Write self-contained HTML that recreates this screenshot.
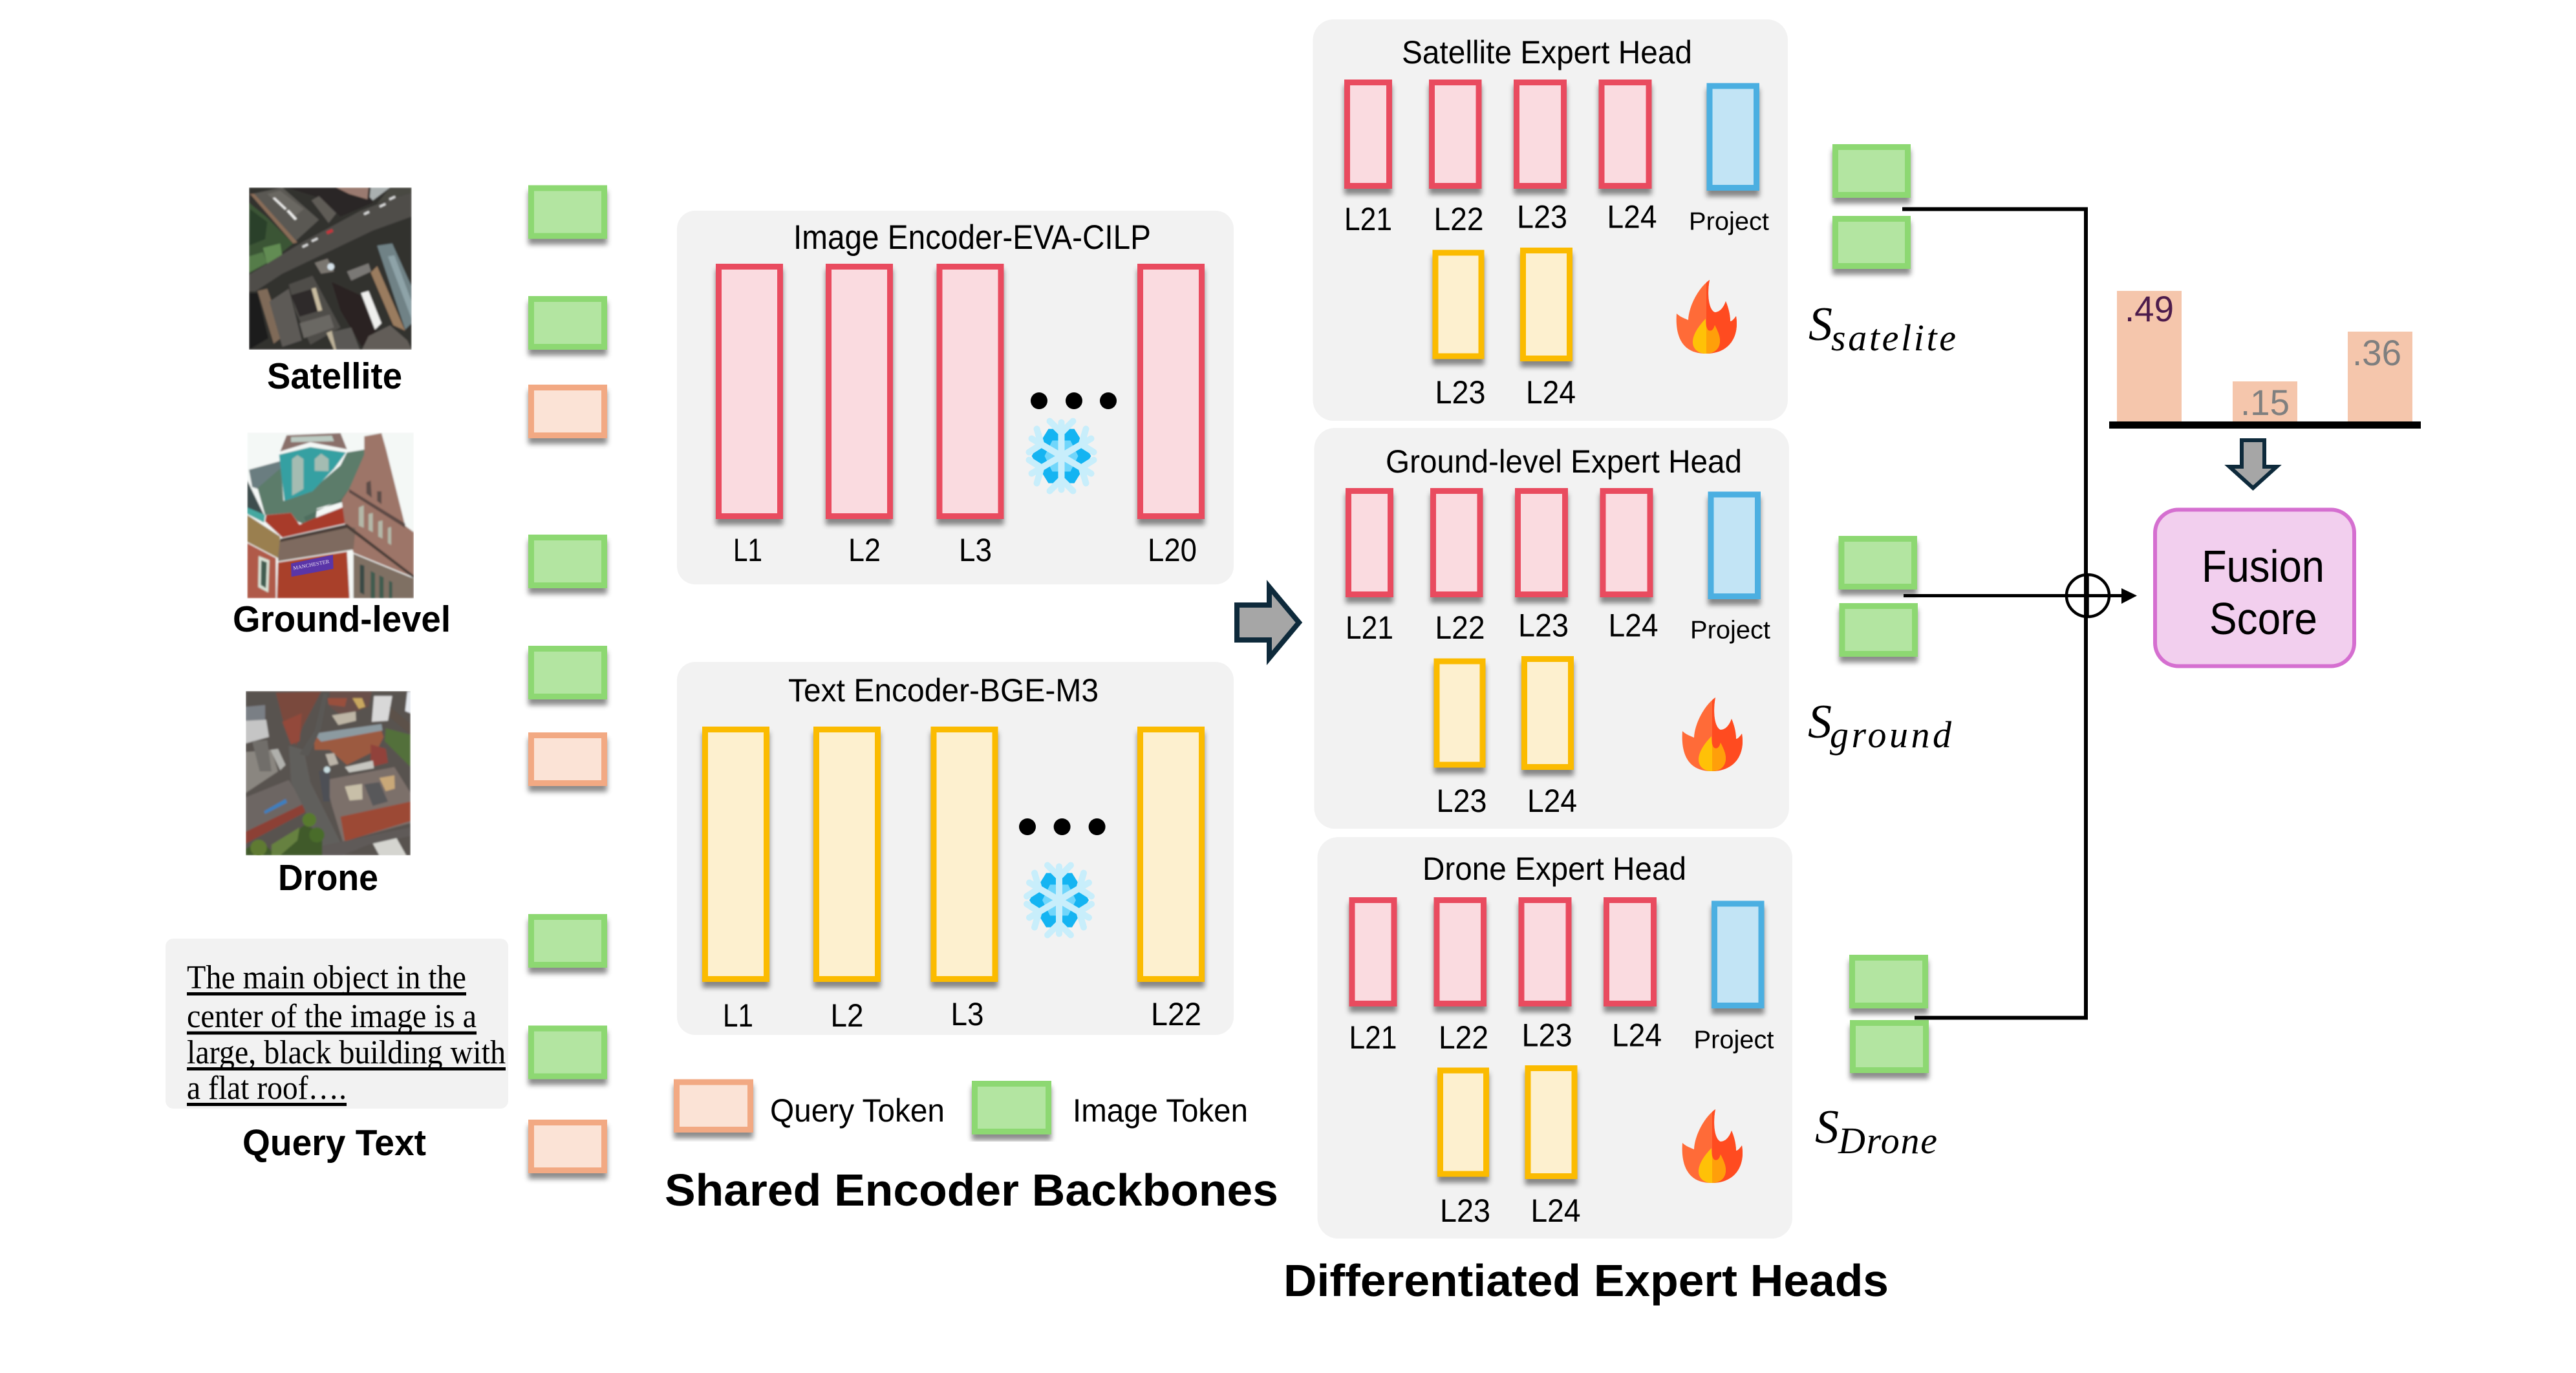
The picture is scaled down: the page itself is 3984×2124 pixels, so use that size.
<!DOCTYPE html>
<html><head><meta charset="utf-8"><title>Diagram</title>
<style>
html,body{margin:0;padding:0;background:#fff;width:3984px;height:2124px;overflow:hidden}
svg{display:block}
text{font-family:"Liberation Sans",Arial,sans-serif;fill:#000}
.b{font-weight:bold}
.ser{font-family:"Liberation Serif","Times New Roman",serif;font-size:52px}
.m{font-family:"Liberation Serif","Times New Roman",serif;font-style:italic}
.t{font-size:50px}
.l{font-size:50px}
.r{fill:#fadbe0;stroke:#e94c5f;stroke-width:9}
.y{fill:#fdf0cf;stroke:#fbbb05;stroke-width:9}
.u{fill:#c2e4f5;stroke:#4bafe1;stroke-width:9}
.g{fill:#b3e5a1;stroke:#8dd872;stroke-width:9}
.o{fill:#fbe3d6;stroke:#f2a983;stroke-width:9}
.box{fill:#f2f2f2}
</style></head><body>
<svg xmlns="http://www.w3.org/2000/svg" width="3984" height="2124" viewBox="0 0 3984 2124">
<defs>
<filter id="sh" x="-20%" y="-20%" width="140%" height="140%"><feDropShadow dx="0" dy="9" stdDeviation="4" flood-color="#000" flood-opacity="0.45"/></filter>
<filter id="soft" x="-2%" y="-2%" width="104%" height="104%"><feGaussianBlur stdDeviation="4"/></filter>
<clipPath id="c1"><rect x="45" y="30" width="755" height="753"/></clipPath>
<clipPath id="c2"><rect x="37" y="27" width="773" height="770"/></clipPath>
<clipPath id="c3"><rect x="30" y="27" width="765" height="763"/></clipPath>
<clipPath id="fr"><rect x="47" y="-5" width="60" height="125"/></clipPath>
<g id="fire">
 <path id="fo" fill="#ff6b38" d="M52 0C35 12 20 40 19 62C14 60 6 57 1 52C-1 80 5 114 46 114C85 114 98 85 93 56C90 60 87 64 84 64C84 52 80 40 77 33C74 42 68 50 60 50C50 46 48 20 52 0Z"/>
 <path clip-path="url(#fr)" fill="#ff4b20" d="M52 0C35 12 20 40 19 62C14 60 6 57 1 52C-1 80 5 114 46 114C85 114 98 85 93 56C90 60 87 64 84 64C84 52 80 40 77 33C74 42 68 50 60 50C50 46 48 20 52 0Z"/>
 <path fill="#ffc107" d="M46 60C36 70 26 84 26 96C26 108 36 114 46 114C60 114 68 106 68 94C68 86 64 78 60 70C58 78 54 80 50 78C46 74 46 66 46 60Z"/>
 <path clip-path="url(#fr)" fill="#ff9f0a" d="M46 60C36 70 26 84 26 96C26 108 36 114 46 114C60 114 68 106 68 94C68 86 64 78 60 70C58 78 54 80 50 78C46 74 46 66 46 60Z"/>
</g>
<g id="snow">
 <polygon points="-20,-42 20,-42 46,0 20,42 -20,42 -46,0" fill="#14b4f2"/>
 <polygon points="-14,-24 14,-24 26,0 14,24 -14,24 -26,0" fill="#70d6fb"/>
 <g stroke="#c8eefb" stroke-width="10" stroke-linecap="round" fill="none">
  <path id="arm" d="M0 0V-52M-18 -54L0 -36L18 -54"/>
  <path d="M0 0V52M-18 54L0 36L18 54"/>
  <path d="M0 0L-46 -27M-50 -6L-31 -18L-38 -42"/>
  <path d="M0 0L46 -27M50 -6L31 -18L38 -42"/>
  <path d="M0 0L-46 27M-50 6L-31 18L-38 42"/>
  <path d="M0 0L46 27M50 6L31 18L38 42"/>
 </g>
</g>
<g id="bars" filter="url(#sh)">
 <rect class="r" x="2083.5" y="127.5" width="65" height="160"/>
 <rect class="r" x="2214.5" y="127.5" width="72.5" height="160"/>
 <rect class="r" x="2345.5" y="127.5" width="73" height="160"/>
 <rect class="r" x="2477" y="127.5" width="73" height="160"/>
 <rect class="u" x="2644" y="133" width="72.5" height="157.5"/>
 <rect class="y" x="2220" y="391" width="71" height="160"/>
 <rect class="y" x="2355.5" y="387.5" width="72" height="167"/>
</g>
</defs>
<rect width="3984" height="2124" fill="#fff"/>

<!-- satellite photo -->
<g transform="translate(370,280) scale(0.3333)"><g clip-path="url(#c1)"><g filter="url(#soft)">
 <rect x="45" y="30" width="755" height="753" fill="#33302e"/>
 <polygon points="220,30 600,30 620,100 470,165 380,80" fill="#2a2826"/>
 <polygon points="45,100 130,170 250,290 150,370 45,430" fill="#3b5436"/>
 <polygon points="50,130 130,190 120,270 45,300" fill="#2b3f2b"/>
 <polygon points="110,310 190,290 200,350 130,385" fill="#628c52"/>
 <polygon points="45,350 110,330 130,380 45,425" fill="#557b48"/>
 <polygon points="60,60 200,30 370,180 260,280 120,130" fill="#5a5853"/>
 <polygon points="130,60 190,45 300,130 250,170" fill="#6a6762"/>
 <polygon points="50,60 70,60 270,285 250,290" fill="#8a6d58"/>
 <polygon points="335,90 370,70 450,150 415,195" fill="#5f5b56"/>
 <polygon points="155,80 165,76 220,128 212,134" fill="#f0f0ee"/>
 <polygon points="220,140 230,134 268,175 258,182" fill="#f0f0ee"/>
 <polygon points="450,30 600,30 595,85 510,60" fill="#9a7a70"/>
 <polygon points="610,30 700,30 620,90 605,75" fill="#aab0b0"/>
 <polygon points="45,435 300,280 560,140 700,85 800,55 800,165 620,230 400,335 200,430 75,512 45,512" fill="#4f4e4a"/>
 <polygon points="700,30 800,30 800,55 700,85 640,105" fill="#4a4a42"/>
 <rect x="405" y="228" width="30" height="14" fill="#c8303a" transform="rotate(-25 420 235)"/>
 <rect x="335" y="268" width="30" height="10" fill="#ddd" transform="rotate(-25 350 273)"/>
 <rect x="292" y="295" width="28" height="10" fill="#ddd" transform="rotate(-25 306 300)"/>
 <rect x="578" y="144" width="26" height="10" fill="#ddd" transform="rotate(-25 590 149)"/>
 <rect x="650" y="108" width="30" height="10" fill="#ddd" transform="rotate(-25 665 113)"/>
 <rect x="695" y="74" width="30" height="10" fill="#ddd" transform="rotate(-25 710 79)"/>
 <polygon points="640,300 710,290 800,490 800,660 770,690" fill="#6f8286"/>
 <polygon points="690,350 720,345 800,560 800,640" fill="#8ea3a8"/>
 <polygon points="610,425 640,395 770,695 715,670" fill="#9a7b5e"/>
 <polygon points="500,420 600,382 612,420 520,462" fill="#7a7875"/>
 <polygon points="430,470 560,530 640,690 570,770 470,600" fill="#2a2120"/>
 <polygon points="565,520 600,510 660,660 630,690" fill="#efefed"/>
 <polygon points="600,720 700,670 780,740 800,783 570,783" fill="#625d58"/>
 <polygon points="85,510 130,500 205,720 160,755" fill="#7f6a58"/>
 <polygon points="230,480 340,440 470,680 330,760 260,600" fill="#504d4a"/>
 <polygon points="240,530 340,500 380,600 280,630" fill="#2f2c2a"/>
 <polygon points="335,500 355,495 385,600 365,605" fill="#c8bba0"/>
 <polygon points="280,660 420,620 440,680 300,730" fill="#6b6864"/>
 <polygon points="405,705 430,695 465,783 440,783" fill="#bdb29a"/>
 <polygon points="45,520 85,520 135,730 45,783" fill="#1e1c1c"/>
 <polygon points="140,560 230,500 290,740 200,770" fill="#5d5a56"/>
 <polygon points="350,380 410,360 440,420 380,430" fill="#7a7670"/>
 <circle cx="425" cy="398" r="16" fill="#d6e2ea"/>
 <polygon points="430,700 520,680 560,783 450,783" fill="#5a5854"/>
</g></g></g>

<!-- ground photo -->
<g transform="translate(370,660) scale(0.3333)"><g clip-path="url(#c2)"><g filter="url(#soft)">
 <rect x="37" y="27" width="773" height="770" fill="#f4f8f6"/>
 <polygon points="45,200 190,160 195,200 90,290 60,280" fill="#6a7d80"/>
 <polygon points="85,285 195,190 205,345 330,300 470,180 500,120 590,105 520,290 475,345 360,380 355,425 320,462 270,440 240,400 120,410" fill="#5c7c6b"/>
 <polygon points="300,420 470,340 500,300 510,340 360,385 355,430 320,465" fill="#4f6e5e"/>
 <polygon points="185,130 330,95 495,120 440,195 340,300 210,345 195,220" fill="#35a0a2"/>
 <polygon points="220,40 470,30 500,105 330,72 190,115" fill="#8a6f6a"/>
 <polygon points="240,48 430,42 440,68 240,72" fill="#bccbc2"/>
 <polygon points="245,150 270,132 298,150 298,290 245,320" fill="#a4bcb2"/>
 <polygon points="350,150 380,125 415,150 415,207 350,205" fill="#a4bcb2"/>
 <polygon points="125,410 240,400 280,455 350,425 490,370 490,450 200,515 120,440" fill="#a83a2a"/>
 <polygon points="510,290 580,130 580,45 660,30 680,100 720,260 770,460 810,490 810,700 530,585 490,450 475,340" fill="#9d7568"/>
 <polygon points="590,260 610,250 615,330 590,310" fill="#5d4d48"/>
 <polygon points="640,300 660,300 660,360 640,345" fill="#5d4d48"/>
 <polygon points="555,375 578,365 578,470 555,460" fill="#b4b8a8"/>
 <polygon points="600,405 620,400 620,490 600,480" fill="#b4b8a8"/>
 <polygon points="645,440 665,435 665,520 645,510" fill="#b4b8a8"/>
 <polygon points="690,470 705,465 705,550 690,540" fill="#b4b8a8"/>
 <polygon points="510,290 770,450 770,470 510,305" fill="#5b4a45"/>
 <polygon points="180,530 490,460 540,470 530,570 180,625" fill="#7e6a5e"/>
 <polygon points="190,520 500,452 810,690 810,705 500,470 190,535" fill="#4a3d38"/>
 <polygon points="180,630 500,580 512,797 175,797" fill="#a9402b"/>
 <polygon points="37,540 170,610 170,797 37,797" fill="#b05a48"/>
 <polygon points="37,410 190,510 180,610 37,535" fill="#9a7f50"/>
 <polygon points="90,600 140,620 135,770 88,745" fill="#d9e3d6"/>
 <polygon points="102,620 128,630 124,750 100,735" fill="#3f5c50"/>
 <polygon points="530,590 810,705 810,797 530,797" fill="#7f7064"/>
 <polygon points="560,640 580,645 580,780 560,770" fill="#394a44"/>
 <polygon points="610,670 630,680 630,797 610,797" fill="#3f5c50"/>
 <polygon points="650,690 670,700 670,797 650,797" fill="#3f5c50"/>
 <polygon points="695,715 710,722 710,797 695,797" fill="#3f5c50"/>
 <polygon points="37,250 115,410 37,400" fill="#3e4e4e"/>
 <polygon points="37,375 120,410 115,445 37,405" fill="#45a8a0"/>
</g>
 <polygon points="240,635 435,595 437,660 242,697" fill="#5a35a8"/>
 <text x="252" y="665" font-size="24" style="fill:#e8e0f0;font-family:'Liberation Serif',serif" transform="rotate(-11 252 665)" textLength="170" lengthAdjust="spacingAndGlyphs">MANCHESTER</text>
</g></g>

<!-- drone photo -->
<g transform="translate(370,1060) scale(0.3333)"><g clip-path="url(#c3)"><g filter="url(#soft)">
 <rect x="30" y="27" width="765" height="763" fill="#59524f"/>
 <polygon points="170,35 380,30 295,190 265,280 210,190" fill="#7a4a3c"/>
 <polygon points="200,170 290,130 280,260 240,275" fill="#93483a"/>
 <polygon points="420,30 615,30 600,100 480,145 420,100" fill="#6a5049"/>
 <polygon points="410,60 500,60 490,100 415,90" fill="#99503c"/>
 <polygon points="430,140 540,122 542,165 460,185" fill="#bdb5a5"/>
 <polygon points="525,60 570,60 585,100 555,110" fill="#c9a75e"/>
 <polygon points="30,100 120,92 120,170 30,170" fill="#7a7f85"/>
 <polygon points="30,165 125,160 138,240 30,270" fill="#c5c5c5"/>
 <polygon points="625,50 710,50 690,165 615,170" fill="#d8d8d8"/>
 <polygon points="700,100 795,180 795,230 700,150" fill="#5b5148"/>
 <polygon points="780,30 795,30 795,130 770,120" fill="#e4e8ee"/>
 <polygon points="680,200 795,230 795,380 720,305 675,260" fill="#52703a"/>
 <polygon points="345,225 650,185 670,240 640,300 500,370 420,300 350,300" fill="#9c5a40"/>
 <polygon points="345,225 660,180 665,210 380,262" fill="#8c9aa0"/>
 <polygon points="610,275 680,295 690,360 610,380" fill="#91423a"/>
 <polygon points="30,310 150,300 180,400 30,500" fill="#8a8680"/>
 <polygon points="60,260 130,255 150,400 95,400" fill="#716e6b"/>
 <polygon points="145,300 180,295 215,370 190,395" fill="#b0b0ac"/>
 <polygon points="30,520 230,440 300,550 300,590 30,730" fill="#6d6663"/>
 <polygon points="30,680 300,550 305,590 30,735" fill="#8c3f35"/>
 <polygon points="115,585 215,528 222,545 120,597" fill="#3b7fc0"/>
 <polygon points="230,280 300,300 330,450 480,750 390,785 300,570 240,450" fill="#605f5c"/>
 <polygon points="280,320 350,210 390,40 410,40 380,200 320,330" fill="#5a5855"/>
 <polygon points="400,440 720,380 795,500 795,640 480,725 430,560" fill="#7c6f6a"/>
 <polygon points="470,610 795,540 795,630 490,725" fill="#9c4a35"/>
 <polygon points="490,470 570,458 572,530 512,535" fill="#c8bfa8"/>
 <polygon points="650,430 720,418 722,480 680,492" fill="#c9a878"/>
 <polygon points="580,460 650,450 690,540 620,560" fill="#59585a"/>
 <polygon points="490,380 620,350 625,385 510,405" fill="#c6c6c0"/>
 <polygon points="400,320 440,315 460,365 420,375" fill="#bbb4a8"/>
 <polygon points="370,400 420,380 420,540 390,540" fill="#4e4f55"/>
 <circle cx="407" cy="392" r="15" fill="#c8dce0"/>
 <polygon points="30,760 100,720 150,770 300,650 385,680 385,790 30,790" fill="#3f5a2c"/>
 <circle cx="325" cy="625" r="32" fill="#587a2e"/>
 <circle cx="360" cy="695" r="35" fill="#4a6c2b"/>
 <circle cx="90" cy="755" r="38" fill="#5f7a30"/>
 <polygon points="150,740 280,660 270,720 190,790 150,790" fill="#66813f"/>
 <polygon points="385,745 790,660 795,700 600,740 480,790 385,790" fill="#5e5a58"/>
 <polygon points="620,735 730,710 775,790 650,790" fill="#d5d5d0"/>
</g></g></g>

<!-- photo labels -->
<text class="b" x="413" y="601" font-size="57" textLength="209" lengthAdjust="spacingAndGlyphs">Satellite</text>
<text class="b" x="360" y="977" font-size="57" textLength="337" lengthAdjust="spacingAndGlyphs">Ground-level</text>
<text class="b" x="430" y="1377" font-size="57" textLength="155" lengthAdjust="spacingAndGlyphs">Drone</text>

<!-- query box -->
<rect class="box" x="256" y="1452" width="530" height="263" rx="12"/>
<text class="ser" x="289" y="1529" textLength="432" lengthAdjust="spacingAndGlyphs">The main object in the</text>
<text class="ser" x="289" y="1589" textLength="448" lengthAdjust="spacingAndGlyphs">center of the image is a</text>
<text class="ser" x="289" y="1645" textLength="493" lengthAdjust="spacingAndGlyphs">large, black building with</text>
<text class="ser" x="289" y="1700" textLength="247" lengthAdjust="spacingAndGlyphs">a flat roof….</text>
<rect x="289" y="1535" width="432" height="5"/>
<rect x="289" y="1595.5" width="448" height="5"/>
<rect x="289" y="1651" width="493" height="5"/>
<rect x="289" y="1706" width="247" height="5"/>
<text class="b" x="375" y="1787" font-size="57" textLength="284" lengthAdjust="spacingAndGlyphs">Query Text</text>

<!-- left tokens -->
<g filter="url(#sh)">
 <rect class="g" x="821.5" y="291" width="113" height="74"/>
 <rect class="g" x="821.5" y="462.5" width="113" height="74"/>
 <rect class="o" x="821.5" y="599.5" width="113" height="74"/>
 <rect class="g" x="821.5" y="831.5" width="113" height="74"/>
 <rect class="g" x="821.5" y="1003.5" width="113" height="74"/>
 <rect class="o" x="821.5" y="1137.5" width="113" height="74"/>
 <rect class="g" x="821.5" y="1418.5" width="113" height="74"/>
 <rect class="g" x="821.5" y="1591" width="113" height="74"/>
 <rect class="o" x="821.5" y="1736.5" width="113" height="74"/>
</g>

<!-- image encoder -->
<rect class="box" x="1047" y="326" width="861" height="578" rx="28"/>
<text x="1227" y="385" font-size="53" textLength="553" lengthAdjust="spacingAndGlyphs">Image Encoder-EVA-CILP</text>
<g filter="url(#sh)">
 <rect class="r" x="1111.5" y="412.5" width="95" height="386"/>
 <rect class="r" x="1281.5" y="412.5" width="95" height="386"/>
 <rect class="r" x="1453" y="412.5" width="95" height="386"/>
 <rect class="r" x="1763.5" y="412.5" width="95" height="386"/>
</g>
<text class="l" x="1134" y="868" textLength="45" lengthAdjust="spacingAndGlyphs">L1</text>
<text class="l" x="1312" y="868" textLength="50" lengthAdjust="spacingAndGlyphs">L2</text>
<text class="l" x="1483" y="868" textLength="51" lengthAdjust="spacingAndGlyphs">L3</text>
<text class="l" x="1775" y="868" textLength="76" lengthAdjust="spacingAndGlyphs">L20</text>
<circle cx="1607" cy="620" r="13"/><circle cx="1661" cy="620" r="13"/><circle cx="1714" cy="620" r="13"/>
<use href="#snow" transform="translate(1641.5,705.5)"/>

<!-- text encoder -->
<rect class="box" x="1047" y="1024" width="861" height="577" rx="28"/>
<text class="t" x="1219" y="1085" textLength="480" lengthAdjust="spacingAndGlyphs">Text Encoder-BGE-M3</text>
<g filter="url(#sh)">
 <rect class="y" x="1090.5" y="1128.5" width="95" height="386"/>
 <rect class="y" x="1262.5" y="1128.5" width="95" height="386"/>
 <rect class="y" x="1444" y="1128.5" width="95" height="386"/>
 <rect class="y" x="1763.5" y="1128.5" width="95" height="386"/>
</g>
<text class="l" x="1118" y="1588" textLength="47" lengthAdjust="spacingAndGlyphs">L1</text>
<text class="l" x="1284.5" y="1588" textLength="51" lengthAdjust="spacingAndGlyphs">L2</text>
<text class="l" x="1470.5" y="1586" textLength="51" lengthAdjust="spacingAndGlyphs">L3</text>
<text class="l" x="1780" y="1586" textLength="78" lengthAdjust="spacingAndGlyphs">L22</text>
<circle cx="1589" cy="1279" r="13"/><circle cx="1642.6" cy="1279" r="13"/><circle cx="1696.6" cy="1279" r="13"/>
<use href="#snow" transform="translate(1638,1392.5)"/>

<!-- legend -->
<g filter="url(#sh)">
 <rect class="o" x="1046.5" y="1674" width="114" height="73.5"/>
 <rect class="g" x="1507.5" y="1676.5" width="114" height="74"/>
</g>
<text class="t" x="1191" y="1735" textLength="270" lengthAdjust="spacingAndGlyphs">Query Token</text>
<text class="t" x="1659" y="1735" textLength="271" lengthAdjust="spacingAndGlyphs">Image Token</text>
<text class="b" x="1028" y="1865" font-size="70" textLength="949" lengthAdjust="spacingAndGlyphs">Shared Encoder Backbones</text>

<!-- big arrow -->
<polygon points="1913,936 1963,936 1963,908 2009,963 1963,1018 1963,990 1913,990" fill="#a6a6a6" stroke="#0e2a3b" stroke-width="8"/>

<!-- satellite head -->
<rect class="box" x="2030.5" y="30" width="734.5" height="621" rx="32"/>
<text class="t" x="2168" y="98" textLength="449" lengthAdjust="spacingAndGlyphs">Satellite Expert Head</text>
<use href="#bars"/>
<g>
 <text class="l" x="2079" y="356" textLength="74" lengthAdjust="spacingAndGlyphs">L21</text>
 <text class="l" x="2217.5" y="356" textLength="77" lengthAdjust="spacingAndGlyphs">L22</text>
 <text class="l" x="2346" y="352.5" textLength="78" lengthAdjust="spacingAndGlyphs">L23</text>
 <text class="l" x="2485.5" y="352.5" textLength="77" lengthAdjust="spacingAndGlyphs">L24</text>
 <text x="2612" y="355.5" font-size="39" textLength="124" lengthAdjust="spacingAndGlyphs">Project</text>
 <text class="l" x="2219.5" y="624" textLength="78" lengthAdjust="spacingAndGlyphs">L23</text>
 <text class="l" x="2360" y="624" textLength="77" lengthAdjust="spacingAndGlyphs">L24</text>
</g>
<use href="#fire" transform="translate(2592,433)"/>

<!-- ground head -->
<rect class="box" x="2032.5" y="662" width="734.5" height="620" rx="32"/>
<text class="t" x="2143" y="731" textLength="551" lengthAdjust="spacingAndGlyphs">Ground-level Expert Head</text>
<use href="#bars" transform="translate(2,632)"/>
<g transform="translate(2,632)">
 <text class="l" x="2079" y="356" textLength="74" lengthAdjust="spacingAndGlyphs">L21</text>
 <text class="l" x="2217.5" y="356" textLength="77" lengthAdjust="spacingAndGlyphs">L22</text>
 <text class="l" x="2346" y="352.5" textLength="78" lengthAdjust="spacingAndGlyphs">L23</text>
 <text class="l" x="2485.5" y="352.5" textLength="77" lengthAdjust="spacingAndGlyphs">L24</text>
 <text x="2612" y="355.5" font-size="39" textLength="124" lengthAdjust="spacingAndGlyphs">Project</text>
 <text class="l" x="2219.5" y="624" textLength="78" lengthAdjust="spacingAndGlyphs">L23</text>
 <text class="l" x="2360" y="624" textLength="77" lengthAdjust="spacingAndGlyphs">L24</text>
</g>
<use href="#fire" transform="translate(2601,1079)"/>

<!-- drone head -->
<rect class="box" x="2037.5" y="1295" width="734.5" height="621" rx="32"/>
<text class="t" x="2200" y="1361" textLength="408" lengthAdjust="spacingAndGlyphs">Drone Expert Head</text>
<use href="#bars" transform="translate(7.5,1265)"/>
<g transform="translate(7.5,1266)">
 <text class="l" x="2079" y="356" textLength="74" lengthAdjust="spacingAndGlyphs">L21</text>
 <text class="l" x="2217.5" y="356" textLength="77" lengthAdjust="spacingAndGlyphs">L22</text>
 <text class="l" x="2346" y="352.5" textLength="78" lengthAdjust="spacingAndGlyphs">L23</text>
 <text class="l" x="2485.5" y="352.5" textLength="77" lengthAdjust="spacingAndGlyphs">L24</text>
 <text x="2612" y="355.5" font-size="39" textLength="124" lengthAdjust="spacingAndGlyphs">Project</text>
 <text class="l" x="2219.5" y="624" textLength="78" lengthAdjust="spacingAndGlyphs">L23</text>
 <text class="l" x="2360" y="624" textLength="77" lengthAdjust="spacingAndGlyphs">L24</text>
</g>
<use href="#fire" transform="translate(2601,1716)"/>
<text class="b" x="1985" y="2005" font-size="70" textLength="936" lengthAdjust="spacingAndGlyphs">Differentiated Expert Heads</text>

<!-- head tokens -->
<g filter="url(#sh)">
 <rect class="g" x="2838.5" y="227.5" width="112" height="74"/>
 <rect class="g" x="2838.5" y="338.5" width="112" height="73"/>
 <rect class="g" x="2848" y="833.5" width="112.5" height="74"/>
 <rect class="g" x="2849" y="937.5" width="112.5" height="74"/>
 <rect class="g" x="2864.5" y="1481.5" width="113" height="74"/>
 <rect class="g" x="2865.5" y="1582.5" width="113" height="73"/>
</g>

<!-- similarity labels -->
<text class="m" x="2797" y="526" font-size="74">S</text>
<text class="m" x="2832" y="542" font-size="58" textLength="193" lengthAdjust="spacing">satelite</text>
<text class="m" x="2796" y="1141" font-size="74">S</text>
<text class="m" x="2830" y="1156" font-size="58" textLength="188" lengthAdjust="spacing">ground</text>
<text class="m" x="2807" y="1768" font-size="74">S</text>
<text class="m" x="2843" y="1784" font-size="58" textLength="153" lengthAdjust="spacing">Drone</text>

<!-- connectors -->
<g fill="none" stroke="#000">
 <path d="M2942 323.5H3226V1574.5H2961" stroke-width="6"/>
 <path d="M2944 921.5H3285" stroke-width="5"/>
</g>
<polygon points="3281,910 3305,921.5 3281,934"/>
<ellipse cx="3229" cy="921.5" rx="33" ry="32.5" fill="none" stroke="#000" stroke-width="4.5"/>
<path d="M3229 889V954" stroke="#000" stroke-width="3.5"/>

<!-- bars chart -->
<rect x="3274" y="450" width="100" height="203" fill="#f5c6ac"/>
<rect x="3453" y="590" width="100" height="63" fill="#f5c6ac"/>
<rect x="3631" y="513" width="100" height="140" fill="#f5c6ac"/>
<rect x="3262" y="652" width="482" height="11"/>
<text x="3286" y="497" font-size="56" style="fill:#4d1c4c" textLength="76" lengthAdjust="spacingAndGlyphs">.49</text>
<text x="3465" y="642" font-size="56" style="fill:#7f7f7f" textLength="76" lengthAdjust="spacingAndGlyphs">.15</text>
<text x="3638" y="565" font-size="56" style="fill:#7f7f7f" textLength="76" lengthAdjust="spacingAndGlyphs">.36</text>
<polygon points="3467,681 3502,681 3502,722 3521,722 3484.5,755 3448,722 3467,722" fill="#a6a6a6" stroke="#0e2a3b" stroke-width="6"/>

<!-- fusion -->
<rect x="3333" y="788.5" width="308" height="242" rx="36" fill="#f2cfee" stroke="#d56fd0" stroke-width="6"/>
<text x="3405" y="900" font-size="70" textLength="190" lengthAdjust="spacingAndGlyphs">Fusion</text>
<text x="3417" y="981" font-size="70" textLength="167" lengthAdjust="spacingAndGlyphs">Score</text>
</svg>
</body></html>
